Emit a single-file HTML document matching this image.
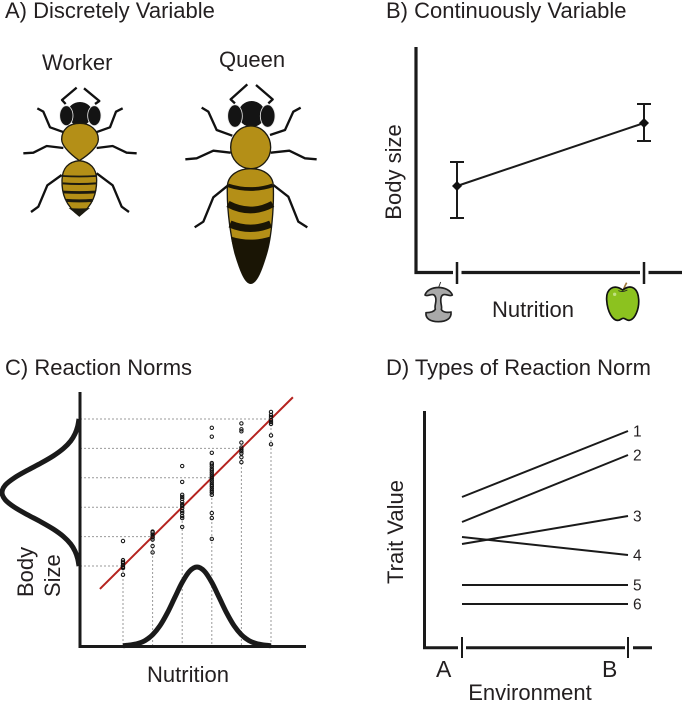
<!DOCTYPE html>
<html lang="en">
<head>
<meta charset="utf-8">
<title>Reaction norms figure</title>
<style>
html,body{margin:0;padding:0;background:#fff;width:685px;height:708px;overflow:hidden}
svg{display:block}
text{font-family:"Liberation Sans",Arial,sans-serif;fill:#231f20}
</style>
</head>
<body>
<svg id="figure" width="685" height="708" viewBox="0 0 685 708" xmlns="http://www.w3.org/2000/svg">
  <text x="5" y="18" font-size="22">A) Discretely Variable</text>
  <text x="386" y="18" font-size="22">B) Continuously Variable</text>
  <text x="5" y="375" font-size="22">C) Reaction Norms</text>
  <text x="386" y="375" font-size="22">D) Types of Reaction Norm</text>
  <text x="42" y="70" font-size="22">Worker</text>
  <text x="219" y="67" font-size="22">Queen</text>

  <g transform="translate(0,40) scale(0.33333)">
    <g fill="none" stroke="#111" stroke-width="7" stroke-linejoin="round">
      <path d="M230,143L186,180L197,192M252,145L298,183L285,192"/>
      <path d="M112,205L130,215L150,262L192,277M368,205L348,215L330,262L288,277"/>
      <path d="M70,340L100,338L140,318L190,324M410,340L380,338L338,318L290,324"/>
      <path d="M93,516L115,500L142,436L185,405M387,516L365,500L338,436L290,400"/>
    </g>
    <ellipse cx="240" cy="221" rx="38" ry="35" fill="#141414"/>
    <ellipse cx="199" cy="227" rx="20" ry="30" fill="#141414" stroke="#e8e8e8" stroke-width="2.5"/>
    <ellipse cx="283" cy="227" rx="20" ry="30" fill="#141414" stroke="#e8e8e8" stroke-width="2.5"/>
    <path d="M240,250C205,250 185,270 185,298C185,320 215,345 238,362C265,345 295,320 295,298C295,270 270,250 240,250Z" fill="#b48f17" stroke="#1c1a10" stroke-width="4"/>
    <path d="M238,362C205,365 187,385 186,420C185,460 195,495 238,528C280,495 290,460 290,420C290,385 270,365 238,362Z" fill="#b48f17" stroke="#1c1a10" stroke-width="4"/>
    <path d="M188,408Q238,411 288,408" fill="none" stroke="#1c1a10" stroke-width="5"/>
    <path d="M188,430Q238,434 288,430" fill="none" stroke="#1c1a10" stroke-width="6"/>
    <path d="M190,456Q238,459 286,456" fill="none" stroke="#1c1a10" stroke-width="8"/>
    <path d="M198,481Q238,484 278,481" fill="none" stroke="#1c1a10" stroke-width="9"/>
    <path d="M206,504Q238,507 270,504L238,529Z" fill="#1c1a10"/>
  </g>

  <g transform="translate(0,40) scale(0.33333)">
    <g fill="none" stroke="#111" stroke-width="7" stroke-linejoin="round">
      <path d="M742,133L692,178L705,190M768,135L818,178L805,190"/>
      <path d="M605,203L625,215L650,270L697,287M902,203L880,215L855,270L810,285"/>
      <path d="M556,358L590,355L640,332L692,338M950,358L915,355L868,332L812,338"/>
      <path d="M584,562L610,545L640,472L683,437M922,562L895,545L865,470L820,435"/>
    </g>
    <ellipse cx="755" cy="222" rx="40" ry="39" fill="#141414"/>
    <ellipse cx="705" cy="228" rx="22" ry="34" fill="#141414" stroke="#e8e8e8" stroke-width="2.5"/>
    <ellipse cx="803" cy="228" rx="22" ry="34" fill="#141414" stroke="#e8e8e8" stroke-width="2.5"/>
    <ellipse cx="752" cy="322" rx="60" ry="64" fill="#b48f17" stroke="#1c1a10" stroke-width="4"/>
    <path d="M752,386C715,386 683,405 682,440C680,520 695,600 705,640C720,690 735,730 752,730C770,730 785,690 800,640C815,590 822,500 820,440C820,405 790,386 752,386Z" fill="#b48f17" stroke="#1c1a10" stroke-width="4"/>
    <path d="M684,436Q752,458 818,436" fill="none" stroke="#1a1505" stroke-width="11"/>
    <path d="M684,492Q752,528 818,492" fill="none" stroke="#1a1505" stroke-width="20"/>
    <path d="M690,552Q752,578 812,552" fill="none" stroke="#1a1505" stroke-width="22"/>
    <path d="M693,590Q752,608 810,590C805,620 803,630 800,640C785,690 770,730 752,730C735,730 720,690 705,640C700,625 696,610 693,590Z" fill="#1a1505"/>
  </g>

  <g transform="translate(400,250) scale(0.33333)">
    <path d="M116,112L122,96" fill="none" stroke="#333" stroke-width="3"/>
    <path d="M75,135C85,105 145,105 157,135C150,142 130,125 124,140C118,155 128,170 124,178C128,188 145,188 153,186C155,205 140,215 115,215C90,215 76,205 78,188C85,188 100,188 106,178C102,165 112,155 106,140C100,125 82,142 75,135Z" fill="#a9a9a9" stroke="#222" stroke-width="5" stroke-linejoin="round"/>
  </g>
  <g transform="translate(400,250) scale(0.33333)">
    <path d="M668,125C672,115 674,108 680,98" fill="none" stroke="#a07a3c" stroke-width="5"/>
    <path d="M668,120C640,100 618,118 620,150C622,185 638,213 655,211C662,210 664,205 670,205C676,205 680,212 688,211C706,208 718,175 716,148C714,116 695,100 668,120Z" fill="#8cc21f" stroke="#111" stroke-width="5"/>
    <path d="M655,122Q668,128 682,120" fill="none" stroke="#222" stroke-width="2.5"/>
    <circle cx="644" cy="133" r="5" fill="#c0e080"/>
  </g>

  <g id="panel-b"></g>
  <g id="panel-c"></g>
  <g id="panel-d"></g>

  <text font-size="22" text-anchor="middle" transform="translate(401,172) rotate(-90)">Body size</text>
  <text x="533" y="317" font-size="22" text-anchor="middle">Nutrition</text>
  <text font-size="22" transform="translate(33,597) rotate(-90)">Body</text>
  <text font-size="22" transform="translate(60,597) rotate(-90)">Size</text>
  <text x="188" y="682" font-size="22" text-anchor="middle">Nutrition</text>
  <text font-size="22" text-anchor="middle" transform="translate(403,532) rotate(-90)">Trait Value</text>
  <text x="530" y="700" font-size="22" text-anchor="middle">Environment</text>
</svg>

<script>
// Panel B data
var bCategories = ['low', 'high'];
var bMeans = [4.3, 7.45];
var bLower = [2.7, 6.55];
var bUpper = [5.5, 8.4];

// Panel C data
var cLevels = [1, 2, 3, 4, 5, 6];
var cSamples = [
  [1.85, 1.2, 1.14, 1.1, 1.03, 0.97, 0.93, 0.7],
  [2.17, 2.14, 2.07, 2, 1.97, 1.9, 1.68, 1.46],
  [4.4, 3.86, 3.42, 3.35, 3.28, 3.18, 3.1, 3.04, 2.97, 2.87, 2.8, 2.7, 2.63, 2.33],
  [5.7, 5.4, 4.85, 4.5, 4.45, 4.38, 4.3, 4.24, 4.17, 4.1, 4.03, 3.97, 3.9, 3.83, 3.76, 3.7, 3.63, 3.56, 3.5, 3.42, 2.8, 2.63, 1.92],
  [5.85, 5.65, 5.58, 5.2, 5.03, 4.97, 4.9, 4.83, 4.7, 4.53],
  [6.24, 6.14, 6.07, 5.97, 5.9, 5.83, 5.44, 5.14]
];
var cFitX = [0.22, 6.74];
var cFitY = [0.22, 6.74];
var cNutritionAt = [1, 1.25, 1.5, 1.75, 2, 2.25, 2.5, 2.75, 3, 3.25, 3.5, 3.75, 4, 4.25, 4.5, 4.75, 5, 5.25, 5.5, 5.75, 6];
var cNutritionDensity = [0.004, 0.0125, 0.031, 0.07, 0.143, 0.258, 0.42, 0.614, 0.805, 0.947, 1, 0.947, 0.805, 0.614, 0.42, 0.258, 0.143, 0.07, 0.031, 0.0125, 0.004];
var cBodyAt = [1, 1.25, 1.5, 1.75, 2, 2.25, 2.5, 2.75, 3, 3.25, 3.5, 3.75, 4, 4.25, 4.5, 4.75, 5, 5.25, 5.5, 5.75, 6];
var cBodyDensity = [0.013, 0.03, 0.063, 0.12, 0.211, 0.339, 0.5, 0.678, 0.841, 0.958, 1, 0.958, 0.841, 0.678, 0.5, 0.339, 0.211, 0.12, 0.063, 0.03, 0.013];

// Panel D data
var dLabels = ['1', '2', '3', '4', '5', '6'];
var dEnvA = [7.55, 6.3, 5.2, 5.55, 3.15, 2.2];
var dEnvB = [10.85, 9.65, 6.6, 4.65, 3.15, 2.2];

var NS = 'http://www.w3.org/2000/svg';
function make(parent, tag, attrs, txt) {
  var n = document.createElementNS(NS, tag);
  for (var k in attrs) n.setAttribute(k, attrs[k]);
  if (txt !== undefined) n.textContent = txt;
  parent.appendChild(n);
  return n;
}
function smooth(pts) {
  var d = 'M' + pts[0][0] + ',' + pts[0][1];
  for (var i = 0; i < pts.length - 1; i++) {
    var p0 = pts[Math.max(i - 1, 0)], p1 = pts[i], p2 = pts[i + 1], p3 = pts[Math.min(i + 2, pts.length - 1)];
    d += 'C' + (p1[0] + (p2[0] - p0[0]) / 6) + ',' + (p1[1] + (p2[1] - p0[1]) / 6) + ' ' +
         (p2[0] - (p3[0] - p1[0]) / 6) + ',' + (p2[1] - (p3[1] - p1[1]) / 6) + ' ' + p2[0] + ',' + p2[1];
  }
  return d;
}
var el;

// ---------- Panel B ----------
(function () {
  var g = document.getElementById('panel-b');
  var bx = function (i) { return 457 + i * 187; };
  var by = function (v) { return 272 - v * 20; };
  el = make(g, 'path', { d: 'M416,47V272.5H453M461.5,272.5H640M648.5,272.5H682', fill: 'none', stroke: '#1a1a1a', 'stroke-width': 3.2 });
  
  
  bCategories.forEach(function (c, i) {
    el = make(g, 'line', { x1: bx(i), x2: bx(i), y1: 262, y2: 284, stroke: '#1a1a1a', 'stroke-width': 2.5 });
    
    
  });
  el = make(g, 'line', { x1: bx(0), y1: by(bMeans[0]), x2: bx(1), y2: by(bMeans[1]), stroke: '#1a1a1a', 'stroke-width': 2 });
  
  
  bCategories.forEach(function (c, i) {
    var x = bx(i), lo = by(bLower[i]), hi = by(bUpper[i]), m = by(bMeans[i]);
    el = make(g, 'path', { d: 'M' + (x - 7) + ',' + hi + 'H' + (x + 7) + 'M' + x + ',' + hi + 'V' + lo + 'M' + (x - 7) + ',' + lo + 'H' + (x + 7), fill: 'none', stroke: '#1a1a1a', 'stroke-width': 2 });
    
    
    el = make(g, 'path', { d: 'M' + x + ',' + (m - 5) + 'L' + (x + 5) + ',' + m + 'L' + x + ',' + (m + 5) + 'L' + (x - 5) + ',' + m + 'Z', fill: '#111' });
    
    
  });
})();

// ---------- Panel C ----------
(function () {
  var g = document.getElementById('panel-c');
  var cx = function (v) { return 123 + (v - 1) * 29.6; };
  var cy = function (v) { return 566 - (v - 1) * 29.4; };
  var AX = 80, AY = 646;
  cLevels.forEach(function (l) {
    el = make(g, 'path', { d: 'M' + AX + ',' + cy(l) + 'H' + cx(l) + 'V' + AY, fill: 'none', stroke: '#999', 'stroke-width': 1, 'stroke-dasharray': '2 2' });
    
    
  });
  el = make(g, 'path', { d: 'M80,392V646.5H306', fill: 'none', stroke: '#1a1a1a', 'stroke-width': 3 });
  
  
  var nutritionPts = cNutritionAt.map(function (v, i) { return [cx(v), AY - cNutritionDensity[i] * 79]; });
  el = make(g, 'path', { d: smooth(nutritionPts), fill: 'none', stroke: '#1a1a1a', 'stroke-width': 5 });
  
  
  var bodyPts = cBodyAt.map(function (v, i) { return [AX - cBodyDensity[i] * 78, cy(v)]; });
  el = make(g, 'path', { d: smooth(bodyPts), fill: 'none', stroke: '#1a1a1a', 'stroke-width': 5 });
  
  
  el = make(g, 'line', { x1: cx(cFitX[0]), y1: cy(cFitY[0]), x2: cx(cFitX[1]), y2: cy(cFitY[1]), stroke: '#b5231f', 'stroke-width': 2 });
  
  
  cSamples.forEach(function (col, i) {
    col.forEach(function (v) {
      el = make(g, 'circle', { cx: cx(cLevels[i]), cy: cy(v), r: 1.7, fill: 'none', stroke: '#111', 'stroke-width': 1 });
      
      
    });
  });
})();

// ---------- Panel D ----------
(function () {
  var g = document.getElementById('panel-d');
  var dy = function (v) { return 648 - v * 20; };
  var XA = 462, XB = 628;
  el = make(g, 'path', { d: 'M424.5,411V647.7H458M466,647.7H625M633,647.7H652', fill: 'none', stroke: '#1a1a1a', 'stroke-width': 3 });
  
  
  [462, 628].forEach(function (x) {
    el = make(g, 'line', { x1: x, x2: x, y1: 637, y2: 658, stroke: '#1a1a1a', 'stroke-width': 2 });
    
    
  });
  dLabels.forEach(function (lab, i) {
    el = make(g, 'line', { x1: XA, y1: dy(dEnvA[i]), x2: XB, y2: dy(dEnvB[i]), stroke: '#1a1a1a', 'stroke-width': 2 });
    
    
    el = make(g, 'text', { x: 633, y: dy(dEnvB[i]) + 5.5, 'font-size': 15.5 }, lab);
    
    
  });
  el = make(g, 'text', { x: 436, y: 677, 'font-size': 23 }, 'A');
  
  
  el = make(g, 'text', { x: 602, y: 677, 'font-size': 23 }, 'B');
  
  
})();
</script>
</body>
</html>
